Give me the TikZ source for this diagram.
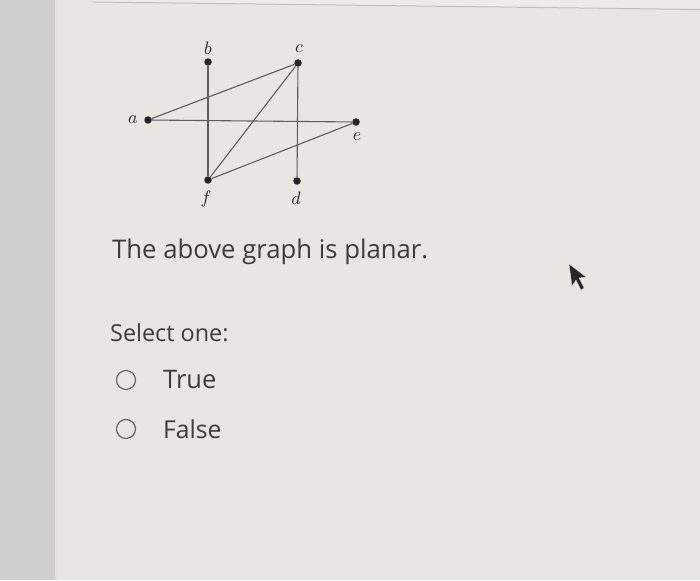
\documentclass[tikz,border=0pt]{standalone}
\usepackage{fontspec}
\setmainfont{Open Sans}
\definecolor{panel}{HTML}{E7E6E2}
\definecolor{band}{HTML}{CFCFCB}
\definecolor{topbox}{HTML}{ECEBE8}
\definecolor{edgeline}{HTML}{5E5E5E}
\definecolor{txt}{HTML}{3C3C3C}
\newcommand{\vlab}[1]{\scalebox{1.8}{$#1$}}
\begin{document}
\begin{tikzpicture}[x=1pt,y=-1pt,
  vtx/.style={circle,fill=black!85,inner sep=0pt,minimum size=7.5pt},
  lbl/.style={text=black!85,inner sep=0pt},
  edg/.style={draw=edgeline,line width=1.1pt},
  radio/.style={circle,draw=black!60,line width=1.2pt,minimum size=19pt,inner sep=0pt},
  qtext/.style={text=txt,anchor=base west,inner sep=0pt}]
\useasboundingbox (0,0) rectangle (700,580);
% backgrounds
\fill[panel] (0,0) rectangle (700,580);
\fill[band] (0,0) rectangle (55,580);
\fill[black!12] (55,0) rectangle (58,580);
\fill[topbox] (93,0) -- (700,0) -- (700,9) -- (93,2) -- cycle;
\draw[black!25,line width=1pt] (93,2) -- (700,9.5);
% vertices
\node[vtx] (b) at (208,62) {};
\node[vtx] (c) at (298,63) {};
\node[vtx] (a) at (148,120) {};
\node[vtx] (e) at (356,122) {};
\node[vtx] (f) at (208,180) {};
\node[vtx] (d) at (297,181) {};
% labels
\node[lbl] (lb) at (208,48) {\vlab{b}};
\node[lbl] (lc) at (299,49) {\vlab{c}};
\node[lbl] (la) at (133,120) {\vlab{a}};
\node[lbl] (le) at (357,137) {\vlab{e}};
\node[lbl] (lf) at (206,199) {\vlab{f}};
\node[lbl] (ld) at (296,198) {\vlab{d}};
% edges
\draw[edg] (b) -- (f);
\draw[edg] (c) -- (d);
\draw[edg] (a) -- (c);
\draw[edg] (a) -- (e);
\draw[edg] (c) -- (f);
\draw[edg] (f) -- (e);
% question text
\node[qtext,font=\fontsize{25.7}{26}\selectfont] (q) at (112,258) {The above graph is planar.};
\node[qtext,font=\fontsize{23.4}{24}\selectfont] (sel) at (110,341) {Select one:};
\node[radio] (r1) at (126,380) {};
\node[qtext,font=\fontsize{25.5}{26}\selectfont] (t1) at (163,388) {True};
\node[radio] (r2) at (126,429) {};
\node[qtext,font=\fontsize{24.7}{25}\selectfont] (t2) at (163,438) {False};
% mouse cursor
\fill[black!85,draw=white!80!black,line width=0.4pt] (569,264) -- (572,286) -- (576,280) -- (581,290) -- (584,288) -- (579,278) -- (586,277) -- cycle;
\end{tikzpicture}
\end{document}
